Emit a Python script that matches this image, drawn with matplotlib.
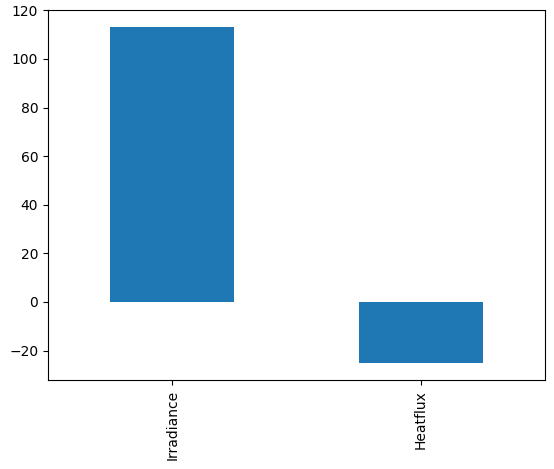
import matplotlib
matplotlib.use("Agg")
import matplotlib.pyplot as plt
import pandas as pd

categories = ["Irradiance", "Heatflux"]
values = [113.2, -25.2]

fig = plt.figure(figsize=(5.54, 4.69), dpi=100)
ax = fig.add_axes([48/554, 1-380/469, (545-48)/554, (380-10)/469])
pd.Series(values, index=categories).plot(kind="bar", ax=ax, color="#1f77b4")
fig.savefig("out.png", dpi=100)
